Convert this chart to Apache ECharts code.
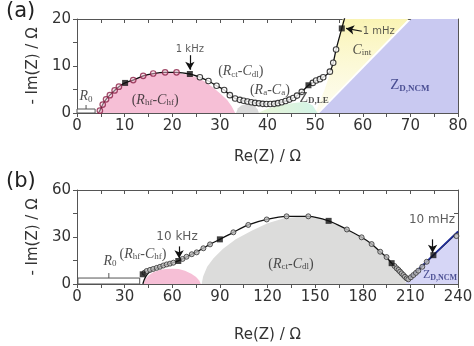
<!DOCTYPE html>
<html><head><meta charset="utf-8">
<script src="https://cdn.jsdelivr.net/npm/echarts@6/dist/echarts.min.js"></script>
<style>html,body{margin:0;padding:0;background:#fff}#c{width:474px;height:346px}</style>
</head><body><div id="c"></div>
<script>
// ---------- Panel (a): Re / -Im impedance readings (Ohm) ----------
const hfPointsA = [[4.8,0.5],[5.4,1.8],[6.1,2.9],[6.9,3.8],[7.9,4.8],[8.8,5.6],[11.8,7.0],[13.9,7.9],[16.0,8.4],[18.5,8.65],[20.9,8.65]];
const pointsA = [[25.8,7.6],[27.6,6.8],[29.3,5.8],[30.9,4.9],[32.1,3.8],[33.2,3.1],[34.2,2.8],[35.0,2.6],[35.8,2.45],[36.6,2.3],[37.4,2.15],[38.2,2.05],[39.0,1.95],[39.8,1.9],[40.6,1.9],[41.4,1.95],[42.2,2.1],[43.0,2.3],[43.8,2.55],[44.6,2.85],[45.4,3.2],[46.2,3.7],[47.2,4.5],[49.5,6.4],[50.2,6.9],[51.0,7.2],[51.7,7.6],[53.1,8.8],[53.8,10.7],[54.4,13.5]];
const decadesA = [[10.1,6.4],[23.7,8.3],[48.6,5.9],[55.6,18.0]];
const fitEndsA = [[4.5,0],[56.3,20.6]];

// model element regions (a)
const hfRegionA = [[4.5,0],[5,1.1],[6,2.3],[7,3.4],[8,4.6],[9,5.5],[10,6.2],[12,7.3],[14,8.0],[16,8.45],[18,8.6],[20,8.6],[22,8.4],[24,8.0],[25.5,7.4],[27,6.6],[28.5,5.5],[30,4.2],[31.5,2.8],[32.5,1.4],[33.2,0]];
const ctRegionA = [[33.4,0],[33.8,1.0],[34.5,1.6],[35.5,1.95],[36.5,1.9],[37.3,1.5],[37.9,0.8],[38.2,0]];
const leRegionA = [[38,0],[40,0.9],[42,1.5],[44,1.9],[46,2.2],[48,2.4],[49.5,1.6],[50.5,0]];
const intRegionA = [[50,0],[52,5],[53.5,9.5],[54.7,14],[55.8,20],[69.6,20],[50.4,0]];
const ncmRegionA = [[50.9,0],[70.2,20],[80,20],[80,0]];
const r0BoxA = [0, 3.8, 0.85, 1.7];

// ---------- Panel (b) ----------
const pointsB = [[42.5,7.2],[43.9,8.3],[46,9.0],[48,9.6],[50.2,10.3],[52.3,11],[54.4,11.8],[56.5,12.5],[58.6,13.0],[60.7,13.6],[66.5,16.0],[69,17.4],[72.3,19],[75.4,20.2],[79.6,22.8],[83.8,25.3],[98.5,33],[107.9,37.7],[119.5,41.2],[132,43.2],[145.7,43.2],[170,34.8],[179.3,29.8],[185.6,25.5],[191,20.6],[195,17.2],[200,11.5],[201.4,10],[202.5,9],[203.5,7.9],[204.5,6.8],[205.6,5.7],[206.6,4.6],[207.7,3.6],[208.7,3.0],[210.3,4.3],[211.9,5.7],[213.5,7.1],[215,8.5],[217.5,11],[220.3,14.2],[239,30.6]];
const decadesB = [[41.4,6.2],[63.8,14.7],[90,28.5],[158.5,40.3],[198.2,13.3],[224.5,18.4]];
const fitB = [[41.5,0],[42.3,2.5],[43.5,5],[45,7],[47,8.6],[50,10.1],[55,12],[60,13.5],[63.8,14.7],[70,17.8],[76,20.8],[83.8,25.3],[90,28.5],[98.5,33],[107.9,37.7],[119.5,41.2],[132,43.2],[145.7,43.2],[158.5,40.3],[170,34.8],[179.3,29.8],[185.6,25.5],[191,20.6],[195,17.1],[198.2,13.3],[202,9.5],[205.6,5.7],[208.5,3.0],[211.9,5.7],[215,8.6],[220.3,14.0],[224.5,18.3],[232,25.5],[240,33.2]];
const ncmLineB = [[207.6,2.2],[240,33.6]];

const hfRegionB = [[41.8,0],[43,3],[45,5.5],[48,7.5],[52,8.9],[56,9.6],[60,9.8],[64,9.5],[68,8.5],[72,6.6],[75,4.4],[77,2.2],[78,0]];
const ctRegionB = [[78.5,0],[79.5,5],[82,11],[86,16.5],[92,22.5],[100,28.5],[110,34],[120,38.7],[130,41.8],[140,43],[150,42.8],[158.5,40.2],[170,34.5],[180,29],[185.6,25.4],[191,20.4],[195,16.8],[198.2,13],[201,10],[204,6.3],[206.5,2.8],[207.5,0]];
const ncmRegionB = [[206,0],[208,2.1],[240,33.6],[240,0]];
const r0BoxB = [0.6, 39.5, 3.8, 7];

// axis tick settings
const ticksA = { xMax: 80, xStep: 10, yMax: 20, yStep: 10, yRightStep: 5 };
const ticksB = { xMax: 240, xStep: 30, yMax: 60, yStep: 30, yRightStep: 15 };

// annotations: [x, y, key]
const notesA = [[1.9,3.5,'r0'],[16.4,2.8,'hf'],[34.4,8.9,'ct'],[40.5,4.9,'a'],[49.8,3.2,'le'],[59.8,13.4,'int'],[69.9,6.0,'ncm']];
const freqA = [[23.7,13.6,'1 kHz','center'],[60.0,17.3,'1 mHz','left']];
const arrowsA = [[[23.7,12.3],[23.7,9.2]],[[59.8,17.4],[56.5,18.0]]];
const notesB = [[20.8,14.7,'r0'],[41.6,19.1,'hf'],[134.8,12.8,'ct'],[228.7,5.7,'ncmS']];
const freqB = [[63,30,'10 kHz','center'],[223.6,40.8,'10 mHz','center']];
const arrowsB = [[[64.3,24],[64.3,16.4]],[[224,28.5],[224,20]]];

const RICH_TEXT = {
  r0: '{i|R}{s|0}',
  hf: '{p|(}{i|R}{s|hf}{p|-}{i|C}{s|hf}{p|)}',
  ct: '{p|(}{i|R}{s|ct}{p|-}{i|C}{s|dl}{p|)}',
  a: '{p|(}{i|R}{s|a}{p|-}{i|C}{s|a}{p|)}',
  le: '{z|Z}{sb|D,LE}',
  int: '{i|C}{s|int}',
  ncm: '{zn|Z}{snb|D,NCM}',
  ncmS: '{zns|Z}{snbs|D,NCM}'
};
const serif = 'Liberation Serif';
const LH = 15;
const rich = {
  i: {fontFamily: serif, fontStyle: 'italic', fontSize: 14, color: '#222', lineHeight: LH},
  p: {fontFamily: serif, fontSize: 14, color: '#222', lineHeight: LH},
  s: {fontFamily: serif, fontSize: 9, color: '#222', lineHeight: LH, verticalAlign: 'bottom'},
  z: {fontFamily: serif, fontSize: 14, color: '#222', lineHeight: LH},
  sb: {fontFamily: serif, fontSize: 9, fontWeight: 'bold', color: '#222', lineHeight: LH, verticalAlign: 'bottom'},
  zn: {fontFamily: serif, fontSize: 15, color: '#2b2f7c', lineHeight: 16},
  snb: {fontFamily: serif, fontSize: 9, fontWeight: 'bold', color: '#2b2f7c', lineHeight: 16, verticalAlign: 'bottom'},
  zns: {fontFamily: serif, fontSize: 12, color: '#2b2f7c', lineHeight: 13},
  snbs: {fontFamily: serif, fontSize: 8, fontWeight: 'bold', color: '#2b2f7c', lineHeight: 13, verticalAlign: 'bottom'}
};

const AX = '#555';
const tickFont = {color: '#333', fontSize: 15, fontFamily: 'DejaVu Sans'};

function xAxis(grid, t, top, nameGap) {
  return {
    type: 'value', gridIndex: grid, min: 0, max: t.xMax, interval: t.xStep,
    position: top ? 'top' : 'bottom',
    axisLine: {show: true, onZero: false, lineStyle: {color: AX, width: 1}},
    axisTick: {show: true, inside: top, length: 4, lineStyle: {color: AX}},
    minorTick: {show: true, splitNumber: 2, length: 4, lineStyle: {color: AX}},
    axisLabel: Object.assign({show: !top, margin: 6}, tickFont),
    splitLine: {show: false}, minorSplitLine: {show: false},
    name: top ? '' : 'Re(Z) / Ω', nameLocation: 'middle', nameGap: nameGap,
    nameTextStyle: {color: '#333', fontSize: 15, fontFamily: 'DejaVu Sans'}
  };
}
function yAxis(grid, t, right) {
  return {
    type: 'value', gridIndex: grid, min: 0, max: t.yMax,
    interval: right ? t.yRightStep : t.yStep,
    position: right ? 'right' : 'left',
    axisLine: {show: true, onZero: false, lineStyle: {color: AX, width: 1}},
    axisTick: {show: true, inside: right, length: 4, lineStyle: {color: AX}},
    minorTick: {show: !right, splitNumber: 2, length: 4, lineStyle: {color: AX}},
    axisLabel: Object.assign({show: !right, margin: 6}, tickFont),
    splitLine: {show: false}, minorSplitLine: {show: false},
    name: right ? '' : '- Im(Z) / Ω', nameLocation: 'middle', nameGap: 35,
    nameTextStyle: {color: '#333', fontSize: 15, fontFamily: 'DejaVu Sans'}
  };
}

function region(pts, ax, fill, z) {
  return {
    type: 'custom', xAxisIndex: ax, yAxisIndex: ax, data: [0], z: z || 1, silent: true,
    renderItem: (p, api) => ({type: 'polygon', shape: {points: pts.map(q => api.coord(q))}, style: {fill: fill}})
  };
}
function bracket(box, ax) {
  return {
    type: 'custom', xAxisIndex: ax, yAxisIndex: ax, data: [0], z: 2, silent: true,
    renderItem: (p, api) => {
      const a = api.coord([box[0], 0]), b = api.coord([box[1], box[2]]);
      const m0 = api.coord([(box[0] + box[1]) / 2, box[2]]), m1 = api.coord([(box[0] + box[1]) / 2, box[3]]);
      return {type: 'group', children: [
        {type: 'rect', shape: {x: a[0], y: b[1], width: b[0] - a[0], height: a[1] - b[1]}, style: {fill: '#fff', stroke: '#555', lineWidth: 1}},
        {type: 'line', shape: {x1: m0[0], y1: m0[1], x2: m1[0], y2: m1[1]}, style: {stroke: '#555', lineWidth: 1}}
      ]};
    }
  };
}
function notes(list, ax) {
  return {
    type: 'scatter', xAxisIndex: ax, yAxisIndex: ax, symbolSize: 0, z: 8, silent: true,
    data: list.map(n => ({value: [n[0], n[1]], label: {show: true, position: 'inside', formatter: RICH_TEXT[n[2]], rich: rich}}))
  };
}
function freqNotes(list, ax, size) {
  return {
    type: 'scatter', xAxisIndex: ax, yAxisIndex: ax, symbolSize: 0, z: 8, silent: true,
    data: list.map(n => ({value: [n[0], n[1]], label: {show: true, position: 'inside', align: n[3], formatter: n[2], color: '#333', fontSize: size, fontFamily: 'DejaVu Sans'}}))
  };
}
function arrows(list, ax) {
  return {
    type: 'line', xAxisIndex: ax, yAxisIndex: ax, data: [], z: 8, silent: true,
    markLine: {silent: true, animation: false, symbol: ['none', 'arrow'], symbolSize: [7, 8],
      lineStyle: {color: '#111', width: 1.2, type: 'solid'}, label: {show: false},
      data: list.map(a => [{coord: a[0]}, {coord: a[1]}])}
  };
}

const fitA = [fitEndsA[0]].concat(hfPointsA, decadesA, pointsA).sort((p, q) => p[0] - q[0]).concat([fitEndsA[1]]);

const yellowFill = new echarts.graphic.LinearGradient(0, 0, 0, 1, [
  {offset: 0, color: 'rgba(250,244,180,1)'}, {offset: 1, color: 'rgba(252,250,225,0.5)'}]);
const greenFill = new echarts.graphic.LinearGradient(0, 0, 1, 0, [
  {offset: 0, color: 'rgba(226,242,205,0.8)'}, {offset: 1, color: 'rgba(205,242,228,0.9)'}]);

const chart = echarts.init(document.getElementById('c'), null, {renderer: 'canvas'});
chart.setOption({
  animation: false,
  backgroundColor: '#fff',
  grid: [
    {left: 77, top: 19, width: 381, height: 94, outerBoundsMode: 'none'},
    {left: 77, top: 190, width: 381, height: 94, outerBoundsMode: 'none'}
  ],
  xAxis: [xAxis(0, ticksA, false, 37), xAxis(0, ticksA, true), xAxis(1, ticksB, false, 44), xAxis(1, ticksB, true)],
  yAxis: [yAxis(0, ticksA, false), yAxis(0, ticksA, true), yAxis(1, ticksB, false), yAxis(1, ticksB, true)],
  graphic: [
    {type: 'text', left: 6, top: 1, style: {text: '(a)', font: '21px DejaVu Sans', fill: '#222'}},
    {type: 'text', left: 6, top: 171, style: {text: '(b)', font: '21px DejaVu Sans', fill: '#222'}}
  ],
  series: [
    // (a) regions
    region(ncmRegionA, 0, '#c9c9f1'),
    region(intRegionA, 0, yellowFill),
    region(leRegionA, 0, greenFill),
    region(hfRegionA, 0, '#f6bfd6'),
    region(ctRegionA, 0, '#d9d9d9'),
    bracket(r0BoxA, 0),
    {type: 'line', xAxisIndex: 0, yAxisIndex: 0, data: fitA, smooth: 0.3, symbol: 'none', z: 3,
      lineStyle: {color: '#111', width: 1.3}},
    {type: 'scatter', xAxisIndex: 0, yAxisIndex: 0, data: hfPointsA, symbol: 'circle', symbolSize: 5.5, z: 4,
      itemStyle: {color: 'rgba(246,200,220,0.6)', borderColor: '#8a1f45', borderWidth: 1.2}},
    {type: 'scatter', xAxisIndex: 0, yAxisIndex: 0, data: pointsA, symbol: 'circle', symbolSize: 5.5, z: 4,
      itemStyle: {color: '#fff', borderColor: '#111', borderWidth: 1.1}},
    {type: 'scatter', xAxisIndex: 0, yAxisIndex: 0, data: decadesA, symbol: 'rect', symbolSize: 6, z: 5,
      itemStyle: {color: '#111'}},
    notes(notesA, 0), freqNotes(freqA, 0, 10), arrows(arrowsA, 0),

    // (b) regions
    region(ncmRegionB, 2, '#d6d6f6'),
    region(hfRegionB, 2, '#f6bfd6'),
    region(ctRegionB, 2, '#dcdcdb'),
    bracket(r0BoxB, 2),
    {type: 'line', xAxisIndex: 2, yAxisIndex: 2, data: fitB, smooth: 0.3, symbol: 'none', z: 3,
      lineStyle: {color: '#111', width: 1.3}},
    {type: 'line', xAxisIndex: 2, yAxisIndex: 2, data: ncmLineB, symbol: 'none', z: 3,
      lineStyle: {color: '#1f2d9a', width: 1.6}},
    {type: 'scatter', xAxisIndex: 2, yAxisIndex: 2, data: pointsB, symbol: 'circle', symbolSize: 5, z: 4,
      itemStyle: {color: '#bdbdbd', borderColor: '#333', borderWidth: 1}},
    {type: 'scatter', xAxisIndex: 2, yAxisIndex: 2, data: decadesB, symbol: 'rect', symbolSize: 6, z: 5,
      itemStyle: {color: '#111'}},
    notes(notesB, 2), freqNotes(freqB, 2, 12), arrows(arrowsB, 2)
  ]
});
</script>
</body></html>
